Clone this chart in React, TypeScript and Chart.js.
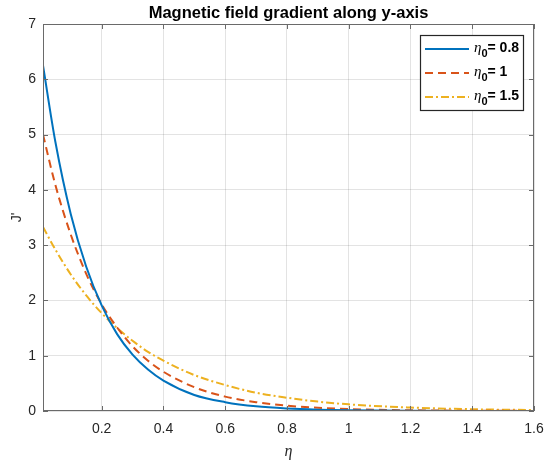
import React, { useEffect, useRef } from 'react';
import { Chart, registerables } from 'chart.js';

Chart.register(...registerables);

const etaValues = [0.01, 0.05, 0.1, 0.15, 0.2, 0.25, 0.3, 0.35, 0.4, 0.5, 0.6, 0.7, 0.8, 0.9, 1.0, 1.2, 1.4, 1.6];

const jEta08 = [6.25, 4.87, 3.56, 2.61, 1.91, 1.39, 1.02, 0.75, 0.55, 0.29, 0.16, 0.084, 0.045, 0.024, 0.013, 0.004, 0.001, 0.0003];
const jEta1 = [5.0, 4.09, 3.19, 2.48, 1.93, 1.51, 1.17, 0.91, 0.71, 0.43, 0.26, 0.16, 0.096, 0.058, 0.035, 0.013, 0.0047, 0.0017];
const jEta15 = [3.33, 2.92, 2.47, 2.09, 1.77, 1.5, 1.27, 1.07, 0.91, 0.65, 0.47, 0.33, 0.24, 0.17, 0.12, 0.063, 0.032, 0.017];

const eta0Labels = ['0.8', '1', '1.5'];
const xTicks = [0.2, 0.4, 0.6, 0.8, 1, 1.2, 1.4, 1.6];
const yTicks = [0, 1, 2, 3, 4, 5, 6, 7];
const chartTitle = 'Magnetic field gradient along y-axis';

const colors = ['#0072BD', '#D95319', '#EDB120'];
const dashes: number[][] = [[], [8, 5], [8, 3, 2, 3]];

const FONT = "'Liberation Sans', Arial, sans-serif";
const AXIS_COLOR = '#262626';

const boxPlugin = {
  id: 'matlabBox',
  afterDatasetsDraw(chart: any) {
    const { ctx, chartArea: a, scales } = chart;
    ctx.save();
    ctx.strokeStyle = '#6a6a6a';
    ctx.lineWidth = 1;
    ctx.setLineDash([]);
    ctx.strokeRect(a.left + 0.5, a.top + 0.5, a.right - a.left - 1, a.bottom - a.top - 1);
    const len = 5;
    ctx.beginPath();
    xTicks.forEach((v) => {
      const x = Math.round(scales.x.getPixelForValue(v)) + 0.5;
      ctx.moveTo(x, a.bottom);
      ctx.lineTo(x, a.bottom - len);
      ctx.moveTo(x, a.top);
      ctx.lineTo(x, a.top + len);
    });
    yTicks.forEach((v) => {
      const y = Math.round(scales.y.getPixelForValue(v)) + 0.5;
      ctx.moveTo(a.left, y);
      ctx.lineTo(a.left + len, y);
      ctx.moveTo(a.right, y);
      ctx.lineTo(a.right - len, y);
    });
    ctx.stroke();

    // title centred over the plot area
    ctx.fillStyle = '#000';
    ctx.textAlign = 'center';
    ctx.textBaseline = 'middle';
    ctx.font = `bold 16.5px ${FONT}`;
    ctx.fillText(chartTitle, (a.left + a.right) / 2, 13);

    // legend box inside the plot, top right
    const bx = 420;
    const by = 35;
    const bw = 103;
    const bh = 75;
    ctx.fillStyle = '#ffffff';
    ctx.fillRect(bx, by, bw, bh);
    ctx.strokeStyle = '#262626';
    ctx.lineWidth = 1.2;
    ctx.strokeRect(bx + 0.5, by + 0.5, bw, bh);
    eta0Labels.forEach((lab, i) => {
      const y = 49 + i * 24;
      ctx.beginPath();
      ctx.strokeStyle = colors[i];
      ctx.lineWidth = 2;
      ctx.setLineDash(dashes[i]);
      ctx.moveTo(425, y);
      ctx.lineTo(469, y);
      ctx.stroke();
      ctx.setLineDash([]);
      ctx.fillStyle = '#000';
      ctx.textBaseline = 'middle';
      ctx.textAlign = 'left';
      let x = 474;
      ctx.font = `italic 15px 'Liberation Serif', serif`;
      ctx.fillText('η', x, y - 1);
      x += ctx.measureText('η').width;
      ctx.font = `bold 11px ${FONT}`;
      ctx.fillText('0', x, y + 5);
      x += ctx.measureText('0').width;
      ctx.font = `bold 14px ${FONT}`;
      ctx.fillText('= ' + lab, x, y - 1);
    });
    ctx.restore();
  },
};

export default function App() {
  const canvasRef = useRef<HTMLCanvasElement | null>(null);

  useEffect(() => {
    if (!canvasRef.current) return;
    const series = [jEta08, jEta1, jEta15];
    const chart = new Chart(canvasRef.current, {
      type: 'line',
      data: {
        datasets: series.map((vals, i) => ({
          label: 'η₀= ' + eta0Labels[i],
          data: etaValues.map((x, k) => ({ x, y: vals[k] })),
          borderColor: colors[i],
          borderWidth: 2,
          borderDash: dashes[i],
          pointRadius: 0,
          fill: false,
          cubicInterpolationMode: 'monotone' as const,
        })),
      },
      options: {
        animation: false,
        responsive: false,
        devicePixelRatio: 1,
        layout: { padding: { left: 0, right: 16, top: 24, bottom: 0 } },
        plugins: {
          legend: { display: false },
          tooltip: { enabled: false },
          title: { display: false },
        },
        scales: {
          x: {
            type: 'linear',
            min: 0.01,
            max: 1.6,
            afterBuildTicks: (s: any) => {
              s.ticks = xTicks.map((v) => ({ value: v }));
            },
            afterFit: (s: any) => {
              s.height = 54;
              s.paddingLeft = 0;
              s.paddingRight = 0;
            },
            ticks: {
              color: AXIS_COLOR,
              font: { family: FONT, size: 14 },
              padding: 10,
              maxRotation: 0,
              callback: (v: any) => String(Math.round(Number(v) * 10) / 10),
            },
            grid: { color: 'rgba(38,38,38,0.13)', drawTicks: false },
            border: { display: false },
            title: {
              display: true,
              text: 'η',
              color: AXIS_COLOR,
              font: { family: "'Liberation Serif', serif", size: 16, style: 'italic' },
              padding: { top: 0, bottom: 4 },
            },
          },
          y: {
            min: 0,
            max: 7,
            afterBuildTicks: (s: any) => {
              s.ticks = yTicks.map((v) => ({ value: v }));
            },
            afterFit: (s: any) => {
              s.width = 43;
              s.paddingTop = 0;
              s.paddingBottom = 0;
            },
            ticks: {
              color: AXIS_COLOR,
              font: { family: FONT, size: 14 },
              padding: 7,
            },
            grid: { color: 'rgba(38,38,38,0.13)', drawTicks: false },
            border: { display: false },
            title: {
              display: true,
              text: "J'",
              color: AXIS_COLOR,
              font: { family: FONT, size: 14 },
              padding: { top: 9, bottom: 0 },
            },
          },
        },
      },
      plugins: [boxPlugin],
    });
    return () => {
      chart.destroy();
    };
  }, []);

  return (
    <div style={{ position: 'absolute', left: 0, top: 0, width: 550, height: 465, background: '#fff' }}>
      <canvas ref={canvasRef} width={550} height={465} style={{ width: 550, height: 465 }} />
    </div>
  );
}
